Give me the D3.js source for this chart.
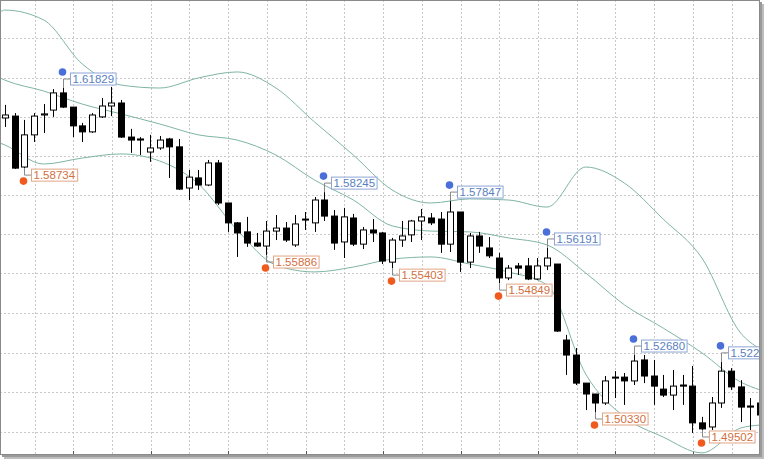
<!DOCTYPE html>
<html>
<head>
<meta charset="utf-8">
<script src="https://cdn.jsdelivr.net/npm/d3@7"></script>
<style>
  body { margin: 0; background: #fff; }
  svg { display: block; }
</style>
</head>
<body>
<svg id="chart"></svg>
<script>
// OHLC per bar
const open = [1.6091, 1.6098, 1.5911, 1.6029, 1.6102, 1.6120, 1.6183, 1.6131, 1.6062, 1.6040,
  1.6095, 1.6135, 1.6146, 1.6021, 1.6014, 1.5966, 1.5981, 1.6014, 1.5985, 1.5834,
  1.5871, 1.5845, 1.5926, 1.5779, 1.5706, 1.5673, 1.5632, 1.5621, 1.5676, 1.5687,
  1.5625, 1.5717, 1.5706, 1.5790, 1.5731, 1.5636, 1.5724, 1.5628, 1.5680, 1.5669,
  1.5562, 1.5643, 1.5662, 1.5713, 1.5724, 1.5720, 1.5628, 1.5746, 1.5562, 1.5658,
  1.5614, 1.5577, 1.5504, 1.5548, 1.5548, 1.5500, 1.5548, 1.5555, 1.5276, 1.5221,
  1.5118, 1.5078, 1.5045, 1.5137, 1.5140, 1.5126, 1.5203, 1.5144, 1.5096, 1.5074,
  1.5111, 1.5107, 1.4972, 1.4957, 1.5045, 1.5162, 1.5104, 1.5034, 1.5045];
const high = [1.6139, 1.6109, 1.6084, 1.6109, 1.6142, 1.6197, 1.6201, 1.6131, 1.6073, 1.6109,
  1.6164, 1.6205, 1.6157, 1.6051, 1.6021, 1.6029, 1.6025, 1.6018, 1.6014, 1.5900,
  1.5900, 1.5937, 1.5937, 1.5779, 1.5709, 1.5728, 1.5669, 1.5713, 1.5735, 1.5709,
  1.5735, 1.5746, 1.5801, 1.5819, 1.5753, 1.5761, 1.5739, 1.5691, 1.5720, 1.5673,
  1.5651, 1.5713, 1.5717, 1.5757, 1.5742, 1.5746, 1.5786, 1.5746, 1.5669, 1.5673,
  1.5654, 1.5596, 1.5551, 1.5559, 1.5577, 1.5577, 1.5614, 1.5555, 1.5295, 1.5247,
  1.5118, 1.5078, 1.5144, 1.5162, 1.5155, 1.5221, 1.5221, 1.5203, 1.5148, 1.5166,
  1.5148, 1.5181, 1.4994, 1.5067, 1.5196, 1.5173, 1.5129, 1.5063, 1.5063];
const low = [1.6058, 1.5904, 1.5907, 1.6003, 1.6036, 1.6095, 1.6128, 1.6021, 1.6003, 1.6036,
  1.6091, 1.6098, 1.6018, 1.5963, 1.5955, 1.5930, 1.5974, 1.5871, 1.5827, 1.5790,
  1.5827, 1.5841, 1.5772, 1.5673, 1.5581, 1.5618, 1.5618, 1.5588, 1.5643, 1.5636,
  1.5618, 1.5680, 1.5673, 1.5713, 1.5607, 1.5577, 1.5621, 1.5610, 1.5636, 1.5555,
  1.5540, 1.5618, 1.5636, 1.5643, 1.5698, 1.5596, 1.5599, 1.5526, 1.5540, 1.5596,
  1.5577, 1.5485, 1.5496, 1.5515, 1.5496, 1.5496, 1.5533, 1.5306, 1.5148, 1.5111,
  1.5019, 1.5012, 1.5038, 1.5063, 1.5038, 1.5111, 1.5118, 1.5038, 1.5067, 1.5019,
  1.5038, 1.4935, 1.4946, 1.4946, 1.5027, 1.5093, 1.4975, 1.4946, 1.4964];
const close = [1.6102, 1.5907, 1.6029, 1.6098, 1.6106, 1.6183, 1.6131, 1.6062, 1.6040, 1.6102,
  1.6135, 1.6146, 1.6021, 1.6010, 1.6010, 1.5981, 1.6010, 1.5985, 1.5830, 1.5874,
  1.5845, 1.5926, 1.5779, 1.5706, 1.5669, 1.5632, 1.5621, 1.5676, 1.5687, 1.5643,
  1.5702, 1.5720, 1.5790, 1.5731, 1.5632, 1.5728, 1.5628, 1.5680, 1.5669, 1.5566,
  1.5643, 1.5658, 1.5713, 1.5728, 1.5706, 1.5628, 1.5746, 1.5562, 1.5658, 1.5621,
  1.5585, 1.5504, 1.5540, 1.5540, 1.5500, 1.5548, 1.5577, 1.5309, 1.5221, 1.5118,
  1.5078, 1.5045, 1.5126, 1.5140, 1.5126, 1.5199, 1.5144, 1.5107, 1.5074, 1.5107,
  1.5107, 1.4972, 1.4950, 1.5045, 1.5162, 1.5104, 1.5030, 1.5030, 1.5001];

// Bollinger bands sampled at these bar positions
const bandAt = [-0.5, 0, 4, 8, 12, 16, 20, 24, 28, 32, 36, 40, 44, 48, 52, 56, 60, 64, 68, 72, 76, 78];
const upper = [1.6480, 1.6487, 1.6451, 1.6289, 1.6212, 1.6201, 1.6238, 1.6260, 1.6201, 1.6076, 1.5955,
  1.5827, 1.5779, 1.5794, 1.5790, 1.5764, 1.5911, 1.5852, 1.5720, 1.5577, 1.5302, 1.5243];
const middle = [1.6238, 1.6230, 1.6190, 1.6142, 1.6106, 1.6069, 1.6029, 1.6010, 1.5955, 1.5863, 1.5790,
  1.5695, 1.5676, 1.5673, 1.5651, 1.5625, 1.5522, 1.5405, 1.5320, 1.5229, 1.5122, 1.5093];
const lower = [1.5999, 1.5992, 1.5922, 1.5944, 1.5959, 1.5933, 1.5849, 1.5680, 1.5551, 1.5526, 1.5544,
  1.5573, 1.5581, 1.5555, 1.5526, 1.5478, 1.5151, 1.4994, 1.4920, 1.4862, 1.4953, 1.4964];

// swing markers
const highIdx = [6, 33, 46, 56, 65, 74];
const highText = ["1.61829", "1.58245", "1.57847", "1.56191", "1.52680", "1.52225"];
const lowIdx = [2, 27, 40, 51, 61, 72];
const lowText = ["1.58734", "1.55886", "1.55403", "1.54849", "1.50330", "1.49502"];

const gridPrices = [1.6385, 1.6238, 1.6095, 1.5951, 1.5808, 1.5665, 1.5522, 1.5375, 1.5229, 1.5085, 1.4939];
const gridBars = d3.range(3, 79, 4);
const tickBars = d3.range(7, 79, 8);

const W = 768, H = 464, pw = 760, ph = 455;

const svg = d3.select("#chart").attr("width", W).attr("height", H);

// frame shadow
svg.append("rect").attr("x", 4).attr("y", 4).attr("width", pw).attr("height", ph)
  .attr("fill", "#bdbdbd").attr("filter", null);
svg.append("rect").attr("x", 2).attr("y", 2).attr("width", pw).attr("height", ph)
  .attr("fill", "#9a9a9a");
svg.append("rect").attr("x", 0).attr("y", 0).attr("width", pw).attr("height", ph)
  .attr("fill", "#fff");

const x = d3.scaleLinear().domain([-0.5, 78]).range([0, pw]);
const y = d3.scaleLinear().domain([1.6524, 1.6524 - 0.000367 * ph]).range([0, ph]);

svg.append("defs").append("clipPath").attr("id", "plot")
  .append("rect").attr("width", pw).attr("height", ph);

const g = svg.append("g").attr("clip-path", "url(#plot)");

// grid
g.selectAll(".gx").data(gridBars).enter().append("line")
  .attr("x1", d => Math.round(x(d + 0.07)) + 0.5).attr("x2", d => Math.round(x(d + 0.07)) + 0.5)
  .attr("y1", 0).attr("y2", ph)
  .attr("stroke", "#c8c8c8").attr("stroke-dasharray", "2,2");
g.selectAll(".gy").data(gridPrices).enter().append("line")
  .attr("y1", d => Math.round(y(d)) + 0.5).attr("y2", d => Math.round(y(d)) + 0.5)
  .attr("x1", 0).attr("x2", pw)
  .attr("stroke", "#c8c8c8").attr("stroke-dasharray", "2,2");
g.selectAll(".tk").data(tickBars).enter().append("line")
  .attr("x1", d => Math.round(x(d + 0.07)) + 0.5).attr("x2", d => Math.round(x(d + 0.07)) + 0.5)
  .attr("y1", ph - 4).attr("y2", ph)
  .attr("stroke", "#555");

// bands
const band = d3.line().x((d, i) => x(bandAt[i])).y(d => y(d)).curve(d3.curveMonotoneX);
[upper, middle, lower].forEach(s => {
  g.append("path").attr("d", band(s))
    .attr("fill", "none").attr("stroke", "#7fb5a3").attr("stroke-width", 1);
});

// candles
const bars = d3.range(open.length);
const bw = 7;
g.selectAll(".wick").data(bars).enter().append("line")
  .attr("x1", i => Math.round(x(i)) + 0.5).attr("x2", i => Math.round(x(i)) + 0.5)
  .attr("y1", i => y(high[i])).attr("y2", i => y(low[i]))
  .attr("stroke", "#000");
g.selectAll(".body").data(bars).enter().append("rect")
  .attr("x", i => Math.round(x(i)) - 3 + 0.5)
  .attr("y", i => y(Math.max(open[i], close[i])))
  .attr("width", bw - 1)
  .attr("height", i => Math.max(1, Math.abs(y(open[i]) - y(close[i]))))
  .attr("fill", i => close[i] >= open[i] ? "#fff" : "#000")
  .attr("stroke", "#000");

// markers
function marker(idx, texts, isHigh) {
  const col = isHigh ? "#4a6fd8" : "#f05a1e";
  const boxStroke = isHigh ? "#8ea6d6" : "#e3a587";
  const txtCol = isHigh ? "#5a7fc0" : "#d2703e";
  idx.forEach((i, k) => {
    const cx = Math.round(x(i)) + 0.5;
    const py = y(isHigh ? high[i] : low[i]);
    const ly = isHigh ? py - 9 : py + 7;
    const dy = isHigh ? py - 16 : py + 13;
    g.append("path")
      .attr("d", `M${cx},${py} L${cx},${ly} L${cx + 7},${ly}`)
      .attr("fill", "none").attr("stroke", "#888");
    const t = g.append("text")
      .attr("x", cx + 9).attr("y", ly + 4)
      .attr("font-family", "Liberation Sans, Arial, sans-serif")
      .attr("font-size", 11.5).attr("fill", txtCol)
      .text(texts[k]);
    const bb = t.node().getBBox();
    g.insert("rect", () => t.node())
      .attr("x", cx + 7).attr("y", ly - 6)
      .attr("width", bb.width + 4).attr("height", 12)
      .attr("fill", "#fff").attr("stroke", boxStroke);
    g.append("circle").attr("cx", cx - 1).attr("cy", dy).attr("r", 3.8).attr("fill", col);
  });
}
marker(highIdx, highText, true);
marker(lowIdx, lowText, false);

// frame border
svg.append("rect").attr("x", 0.5).attr("y", 0.5).attr("width", pw - 1).attr("height", ph - 1)
  .attr("fill", "none").attr("stroke", "#8a8a8a");
</script>
</body>
</html>
